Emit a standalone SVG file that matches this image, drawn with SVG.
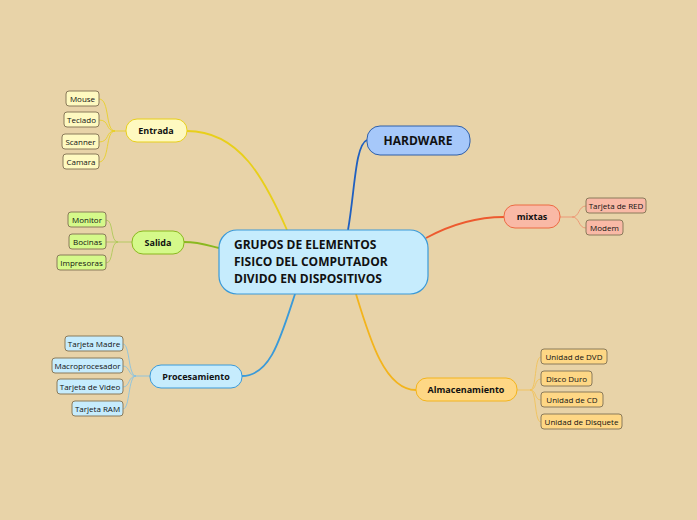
<svg xmlns="http://www.w3.org/2000/svg" width="697" height="520" viewBox="0 0 697 520">
<style>
text{font-family:"Open Sans","Noto Sans","Liberation Sans",sans-serif;fill:#111}
.b{font-weight:bold;font-size:9px;text-anchor:middle}
.l{font-size:8px;text-anchor:middle}
.leaf{stroke:#8a7a5a;stroke-width:1}
.c{fill:none;stroke-width:1.8}
.t{fill:none;stroke-width:0.8}
</style>
<rect width="697" height="520" fill="#e8d3a8"/>
<g id="connectors">
<path class="c" stroke="#e8cf1a" d="M187,131 C240,131 265,180 287,230"/>
<path class="c" stroke="#8ab81f" d="M184,242 C200,242 210,246 219,248"/>
<path class="c" stroke="#3a9ad9" d="M242,376 C270,376 280,340 295,294"/>
<path class="c" stroke="#2060c0" d="M348,230 C355,190 355,145 367,140"/>
<path class="c" stroke="#ed5a2f" d="M426,238 C450,225 475,217 504,217"/>
<path class="c" stroke="#f3b41c" d="M356,294 C370,340 385,390 416,390"/>
<g stroke="#e8cf1a" class="t"><path d="M126,131 H115"/><path d="M115,131 C105,131 110,99 99,99"/><path d="M115,131 C105,131 110,120 99,120"/><path d="M115,131 C105,131 110,142 99,142"/><path d="M115,131 C105,131 110,162 99,162"/></g>
<g stroke="#a8c850" class="t"><path d="M132,242 H118"/><path d="M118,242 C110,242 114,220 106,220"/><path d="M118,242 H106"/><path d="M118,242 C110,242 114,263 106,263"/></g>
<g stroke="#7cc0e8" class="t"><path d="M150,376 H136"/><path d="M136,376 C128,376 130,344 123,344"/><path d="M136,376 C128,376 130,366 123,366"/><path d="M136,376 C128,376 130,387 123,387"/><path d="M136,376 C128,376 130,409 123,409"/></g>
<g stroke="#ed8a6a" class="t"><path d="M560,217 H572"/><path d="M572,217 C580,217 578,206 586,206"/><path d="M572,217 C580,217 578,228 586,228"/></g>
<g stroke="#f3c050" class="t"><path d="M517,390 H530"/><path d="M530,390 C537,390 534,357 541,357"/><path d="M530,390 C537,390 534,379 541,379"/><path d="M530,390 C537,390 534,400 541,400"/><path d="M530,390 C537,390 534,422 541,422"/></g>
</g>
<g id="central"><rect x="219" y="230" width="209" height="64" rx="18" fill="#c6ecfd" stroke="#3a9ad9" stroke-width="1.2"/>
<text x="234" y="249" font-size="12" font-weight="bold">GRUPOS DE ELEMENTOS</text>
<text x="234" y="266" font-size="12" font-weight="bold">FISICO DEL COMPUTADOR</text>
<text x="234" y="283" font-size="12" font-weight="bold">DIVIDO EN DISPOSITIVOS</text></g>
<g id="hardware"><rect x="367" y="126" width="103" height="29" rx="13" fill="#a6c8fa" stroke="#2f5fa8"/><text x="418" y="145" font-size="12" font-weight="bold" text-anchor="middle">HARDWARE</text></g>
<g id="entrada"><rect x="126" y="119" width="61" height="23" rx="11" fill="#fef9c0" stroke="#e8cf1a"/><text class="b" x="156" y="134">Entrada</text></g>
<g id="salida"><rect x="132" y="231" width="52" height="23" rx="11" fill="#d5f98a" stroke="#8ab81f"/><text class="b" x="158" y="246">Salida</text></g>
<g id="procesamiento"><rect x="150" y="365" width="92" height="23" rx="11" fill="#c6ecfd" stroke="#3a9ad9"/><text class="b" x="196" y="380">Procesamiento</text></g>
<g id="mixtas"><rect x="504" y="205" width="56" height="23" rx="11" fill="#f9b9a6" stroke="#ed6a43"/><text class="b" x="532" y="220">mixtas</text></g>
<g id="almacenamiento"><rect x="416" y="378" width="101" height="23" rx="11" fill="#fed785" stroke="#f3b41c"/><text class="b" x="466" y="393">Almacenamiento</text></g>
<g id="mouse"><rect class="leaf" x="66" y="91" width="33" height="15" rx="3" fill="#fef9c0"/><text class="l" x="82.5" y="101.5">Mouse</text></g>
<g id="teclado"><rect class="leaf" x="64" y="112" width="35" height="15" rx="3" fill="#fef9c0"/><text class="l" x="81.5" y="122.5">Teclado</text></g>
<g id="scanner"><rect class="leaf" x="62" y="134" width="37" height="15" rx="3" fill="#fef9c0"/><text class="l" x="80.5" y="144.5">Scanner</text></g>
<g id="camara"><rect class="leaf" x="63" y="154" width="36" height="15" rx="3" fill="#fef9c0"/><text class="l" x="81" y="164.5">Camara</text></g>
<g id="monitor"><rect class="leaf" x="68" y="212" width="38" height="15" rx="3" fill="#d5f98a"/><text class="l" x="87" y="222.5">Monitor</text></g>
<g id="bocinas"><rect class="leaf" x="69" y="234" width="37" height="15" rx="3" fill="#d5f98a"/><text class="l" x="87.5" y="244.5">Bocinas</text></g>
<g id="impresoras"><rect class="leaf" x="57" y="255" width="49" height="15" rx="3" fill="#d5f98a"/><text class="l" x="81.5" y="265.5">Impresoras</text></g>
<g id="madre"><rect class="leaf" x="65" y="336" width="58" height="15" rx="3" fill="#c6ecfd"/><text class="l" x="94" y="346.5">Tarjeta Madre</text></g>
<g id="macro"><rect class="leaf" x="52" y="358" width="71" height="15" rx="3" fill="#c6ecfd"/><text class="l" x="87.5" y="368.5">Macroprocesador</text></g>
<g id="video"><rect class="leaf" x="57" y="379" width="66" height="15" rx="3" fill="#c6ecfd"/><text class="l" x="90" y="389.5">Tarjeta de Video</text></g>
<g id="ram"><rect class="leaf" x="72" y="401" width="51" height="15" rx="3" fill="#c6ecfd"/><text class="l" x="97.5" y="411.5">Tarjeta RAM</text></g>
<g id="red"><rect class="leaf" x="586" y="198" width="60" height="15" rx="3" fill="#f9b9a6"/><text class="l" x="616" y="208.5">Tarjeta de RED</text></g>
<g id="modem"><rect class="leaf" x="586" y="220" width="37" height="15" rx="3" fill="#f9b9a6"/><text class="l" x="604.5" y="230.5">Modem</text></g>
<g id="dvd"><rect class="leaf" x="541" y="349" width="66" height="15" rx="3" fill="#fed785"/><text class="l" x="574" y="359.5">Unidad de DVD</text></g>
<g id="disco"><rect class="leaf" x="541" y="371" width="51" height="15" rx="3" fill="#fed785"/><text class="l" x="566.5" y="381.5">Disco Duro</text></g>
<g id="cd"><rect class="leaf" x="541" y="392" width="62" height="15" rx="3" fill="#fed785"/><text class="l" x="572" y="402.5">Unidad de CD</text></g>
<g id="disquete"><rect class="leaf" x="541" y="414" width="81" height="15" rx="3" fill="#fed785"/><text class="l" x="581.5" y="424.5">Unidad de Disquete</text></g>
</svg>
